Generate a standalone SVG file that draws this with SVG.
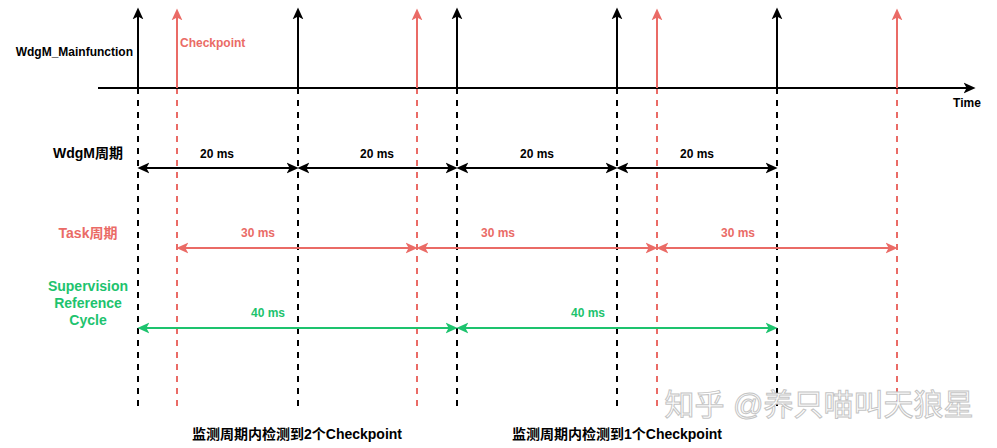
<svg xmlns="http://www.w3.org/2000/svg" width="997" height="448" viewBox="0 0 997 448">
<style>
text{font-family:"Liberation Sans",Arial,sans-serif;font-weight:bold;font-size:12px}
.k{fill:#000}
.r{fill:#EA6B66}
.g{fill:#1DC36E}
.c{text-anchor:middle}
.big{font-size:14px}
.bk{stroke:#000;stroke-width:2;fill:none}
.rd{stroke:#EA6B66;stroke-width:2;fill:none}
.gn{stroke:#1DC36E;stroke-width:2;fill:none}
.dash{stroke-dasharray:6 6}
.cn{font-family:"Liberation Sans","Noto Sans CJK SC",sans-serif}
</style>
<defs>
<marker id="ak" markerUnits="userSpaceOnUse" markerWidth="12" markerHeight="12" viewBox="0 0 10 10" refX="7" refY="5" orient="auto-start-reverse"><path d="M0,0.5 L10,5 L0,9.5 L2.5,5 z" fill="#000"/></marker>
<marker id="ar" markerUnits="userSpaceOnUse" markerWidth="12" markerHeight="12" viewBox="0 0 10 10" refX="7" refY="5" orient="auto-start-reverse"><path d="M0,0.5 L10,5 L0,9.5 L2.5,5 z" fill="#EA6B66"/></marker>
<marker id="ag" markerUnits="userSpaceOnUse" markerWidth="12" markerHeight="12" viewBox="0 0 10 10" refX="7" refY="5" orient="auto-start-reverse"><path d="M0,0.5 L10,5 L0,9.5 L2.5,5 z" fill="#1DC36E"/></marker>
</defs>
<rect width="997" height="448" fill="#fff"/>

<g id="connectors">
<g class="bk dash">
<line x1="138" y1="88" x2="138" y2="410"/>
<line x1="298" y1="88" x2="298" y2="410"/>
<line x1="457" y1="88" x2="457" y2="410"/>
<line x1="617" y1="88" x2="617" y2="410"/>
<line x1="777" y1="88" x2="777" y2="410"/>
</g>
<g class="rd dash">
<line x1="177" y1="88" x2="177" y2="410"/>
<line x1="417" y1="88" x2="417" y2="410"/>
<line x1="657" y1="88" x2="657" y2="410"/>
<line x1="897" y1="88" x2="897" y2="410"/>
</g>
<line class="bk" x1="98" y1="88" x2="972" y2="88" marker-end="url(#ak)"/>
<g class="bk" marker-end="url(#ak)">
<line x1="138" y1="88" x2="138" y2="11"/>
<line x1="298" y1="88" x2="298" y2="11"/>
<line x1="457" y1="88" x2="457" y2="11"/>
<line x1="617" y1="88" x2="617" y2="11"/>
<line x1="777" y1="88" x2="777" y2="11"/>
</g>
<g class="rd" marker-end="url(#ar)">
<line x1="177" y1="88" x2="177" y2="12"/>
<line x1="417" y1="88" x2="417" y2="12"/>
<line x1="657" y1="88" x2="657" y2="12"/>
<line x1="897" y1="88" x2="897" y2="12"/>
</g>
<g class="bk" marker-start="url(#ak)" marker-end="url(#ak)">
<line x1="141" y1="168" x2="295" y2="168"/>
<line x1="301" y1="168" x2="454" y2="168"/>
<line x1="460" y1="168" x2="614" y2="168"/>
<line x1="620" y1="168" x2="774" y2="168"/>
</g>
<g class="rd" marker-start="url(#ar)" marker-end="url(#ar)">
<line x1="180" y1="248" x2="414" y2="248"/>
<line x1="420" y1="248" x2="654" y2="248"/>
<line x1="660" y1="248" x2="894" y2="248"/>
</g>
<g class="gn" marker-start="url(#ag)" marker-end="url(#ag)">
<line x1="141" y1="328" x2="454" y2="328"/>
<line x1="460" y1="328" x2="774" y2="328"/>
</g>
</g>

<g id="labels">
<text class="k" x="133" y="56" text-anchor="end">WdgM_Mainfunction</text>
<text class="r" x="180" y="47">Checkpoint</text>
<text class="k c" x="967" y="107">Time</text>
<text class="k c cn big" x="88" y="158">WdgM周期</text>
<text class="k c" x="217" y="158">20 ms</text>
<text class="k c" x="377" y="158">20 ms</text>
<text class="k c" x="537" y="158">20 ms</text>
<text class="k c" x="697" y="158">20 ms</text>
<text class="r c cn big" x="88" y="238">Task周期</text>
<text class="r c" x="258" y="237">30 ms</text>
<text class="r c" x="498" y="237">30 ms</text>
<text class="r c" x="738" y="237">30 ms</text>
<text class="g c big" x="88" y="291">Supervision</text>
<text class="g c big" x="88" y="308">Reference</text>
<text class="g c big" x="88" y="325">Cycle</text>
<text class="g c" x="268" y="317">40 ms</text>
<text class="g c" x="588" y="317">40 ms</text>
<text class="k c cn big" x="297" y="439">监测周期内检测到2个Checkpoint</text>
<text class="k c cn big" x="617" y="439">监测周期内检测到1个Checkpoint</text>
</g>
<text x="819" y="415" class="c cn" style="font-size:30px;font-weight:normal;fill:#fff;stroke:#c4c4c4;stroke-width:1">知乎 @养只喵叫天狼星</text>
</svg>
